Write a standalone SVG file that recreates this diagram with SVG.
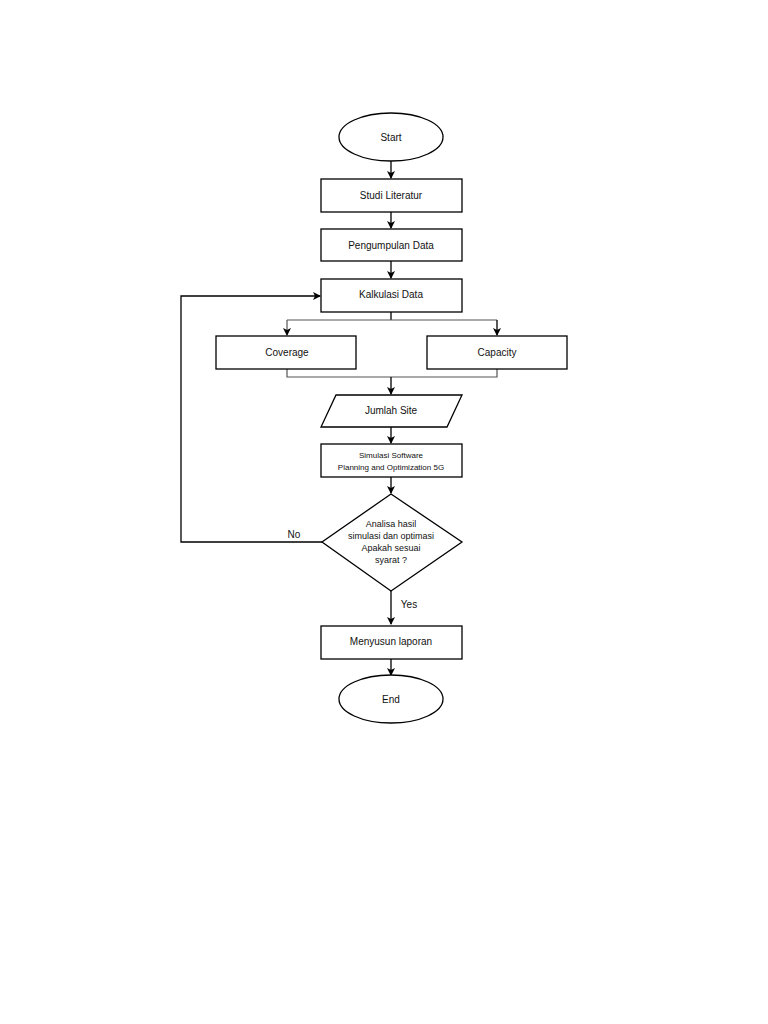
<svg xmlns="http://www.w3.org/2000/svg" width="768" height="1024" viewBox="0 0 768 1024">
<style>
.s{fill:#fff;stroke:#000;stroke-width:1.3}
.t{font-family:"Liberation Sans",Arial,sans-serif;font-size:10px;text-anchor:middle;fill:#111}
.c{fill:none;stroke:#000;stroke-width:1.3}
.g{fill:none;stroke:#555;stroke-width:1.2}
</style>
<defs><marker id="a" markerWidth="8" markerHeight="8" refX="7" refY="4" orient="auto" markerUnits="userSpaceOnUse"><path d="M0,0L8,4L0,8L2,4Z" fill="#000"/></marker></defs>
<rect width="768" height="1024" fill="#fff"/>
<g id="connectors">
<path class="c" d="M391,161V178" marker-end="url(#a)"/>
<path class="c" d="M391,212V228" marker-end="url(#a)"/>
<path class="c" d="M391,261V278" marker-end="url(#a)"/>
<path class="c" d="M391,312V320"/>
<path class="g" d="M287,320H497"/>
<path class="g" d="M287,320V335" marker-end="url(#a)"/>
<path class="c" d="M497,320V335" marker-end="url(#a)"/>
<path class="g" d="M287,369V377H497V369"/>
<path class="c" d="M391,377V394" marker-end="url(#a)"/>
<path class="c" d="M391,427V443" marker-end="url(#a)"/>
<path class="c" d="M391,477V493" marker-end="url(#a)"/>
<path class="c" d="M391,591V624" marker-end="url(#a)"/>
<path class="c" d="M391,659V675" marker-end="url(#a)"/>
<path class="c" d="M322,542H181V296H320" marker-end="url(#a)"/>
<text class="t" x="294" y="538">No</text>
<text class="t" x="409" y="608">Yes</text>
</g>
<g id="start"><ellipse class="s" cx="391" cy="137" rx="52" ry="24"/><text class="t" x="391" y="141">Start</text></g>
<g id="studi"><rect class="s" x="321" y="179" width="141" height="33"/><text class="t" x="391" y="199">Studi Literatur</text></g>
<g id="pengumpulan"><rect class="s" x="321" y="229" width="141" height="32"/><text class="t" x="391" y="249">Pengumpulan Data</text></g>
<g id="kalkulasi"><rect class="s" x="321" y="279" width="141" height="33"/><text class="t" x="391" y="298">Kalkulasi Data</text></g>
<g id="coverage"><rect class="s" x="216" y="336" width="140" height="33"/><text class="t" x="287" y="356">Coverage</text></g>
<g id="capacity"><rect class="s" x="427" y="336" width="140" height="33"/><text class="t" x="497" y="356">Capacity</text></g>
<g id="jumlah"><polygon class="s" points="336,395 462,395 447,427 321,427"/><text class="t" x="391" y="414" fill="#1a3a4a">Jumlah Site</text></g>
<g id="simulasi"><rect class="s" x="321" y="444" width="141" height="33"/><text class="t" x="391" y="458" style="font-size:8px">Simulasi Software</text><text class="t" x="391" y="470" style="font-size:8px">Planning and Optimization 5G</text></g>
<g id="analisa"><polygon class="s" points="391,494 462,542 391,591 322,542"/>
<text class="t" x="391" y="527" style="font-size:9px">Analisa hasil</text>
<text class="t" x="391" y="539" style="font-size:9px">simulasi dan optimasi</text>
<text class="t" x="391" y="551" style="font-size:9px">Apakah sesuai</text>
<text class="t" x="391" y="563" style="font-size:9px">syarat ?</text></g>
<g id="menyusun"><rect class="s" x="321" y="626" width="141" height="33"/><text class="t" x="391" y="645">Menyusun laporan</text></g>
<g id="end"><ellipse class="s" cx="391" cy="699" rx="52" ry="24"/><text class="t" x="391" y="703">End</text></g>
</svg>
